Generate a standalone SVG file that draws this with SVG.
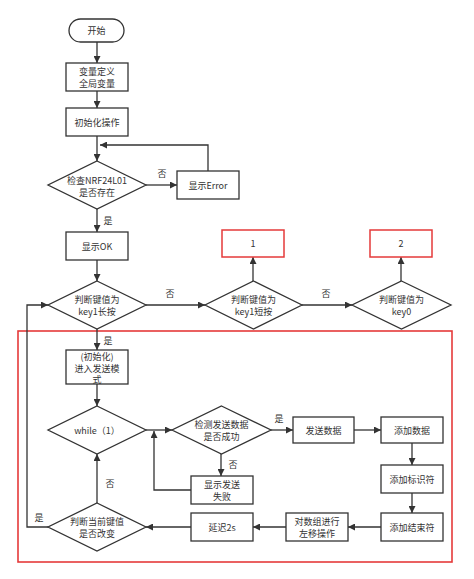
<svg xmlns="http://www.w3.org/2000/svg" width="474" height="579" viewBox="0 0 474 579">
<defs>
<marker id="ah" viewBox="0 0 10 10" refX="10" refY="5" markerWidth="7" markerHeight="7" markerUnits="userSpaceOnUse" orient="auto"><path d="M0,0 L10,5 L0,10 z" fill="#333"/></marker>
<style>
.n{fill:#fff;stroke:#333;stroke-width:1.3}
.r{fill:#fff;stroke:#e53a3a;stroke-width:1.5}
.c{fill:none;stroke:#333;stroke-width:1.3;marker-end:url(#ah)}
text{font-family:"Noto Sans CJK SC","Liberation Sans",sans-serif;font-size:9px;fill:#333;text-anchor:middle}
</style>
</defs>
<rect width="474" height="579" fill="#fff"/>
<rect x="18" y="331" width="434" height="231" fill="none" stroke="#e53a3a" stroke-width="1.6"/>
<g id="connectors">
<path class="c" d="M97,42 V63"/>
<path class="c" d="M97,91 V108"/>
<path class="c" d="M97,136 V161"/>
<path class="c" d="M146,185 H177"/>
<path class="c" d="M208,171 V145 H100"/>
<path class="c" d="M97,209 V232"/>
<path class="c" d="M97,260 V281"/>
<path class="c" d="M146,305 H205"/>
<path class="c" d="M302,305 H352"/>
<path class="c" d="M253,281 V257"/>
<path class="c" d="M401,281 V257"/>
<path class="c" d="M97,329 V350"/>
<path class="c" d="M97,384 V406"/>
<path class="c" d="M146,430 H172"/>
<path class="c" d="M271,430 H293"/>
<path class="c" d="M354,430 H381"/>
<path class="c" d="M412,443 V465"/>
<path class="c" d="M412,493 V513"/>
<path class="c" d="M381,527 H348"/>
<path class="c" d="M286,527 H253"/>
<path class="c" d="M191,527 H146"/>
<path class="c" d="M221,454 V476"/>
<path class="c" d="M191,490 H154 V431"/>
<path class="c" d="M97,503 V454"/>
<path class="c" d="M48,527 H27 V305 H48"/>
</g>
<g id="labels">
<text x="162" y="177">否</text>
<text x="108" y="224">是</text>
<text x="170" y="297">否</text>
<text x="326" y="297">否</text>
<text x="108" y="344">是</text>
<text x="279" y="422">是</text>
<text x="233" y="468">否</text>
<text x="110" y="487">否</text>
<text x="39" y="521">是</text>
</g>
<g id="start"><rect class="n" x="69" y="19" width="55" height="23" rx="11.5"/><text x="96.5" y="34">开始</text></g>
<g id="vardef"><rect class="n" x="66" y="63" width="62" height="28"/><text x="97" y="75">变量定义</text><text x="97" y="87">全局变量</text></g>
<g id="init"><rect class="n" x="66" y="108" width="62" height="28"/><text x="97" y="125.5">初始化操作</text></g>
<g id="checknrf"><polygon class="n" points="97,161 146,185 97,209 48,185"/><text x="97" y="184">检查NRF24L01</text><text x="97" y="196">是否存在</text></g>
<g id="error"><rect class="n" x="177" y="171" width="62" height="28"/><text x="208" y="188.5">显示Error</text></g>
<g id="ok"><rect class="n" x="66" y="232" width="62" height="28"/><text x="97" y="249.5">显示OK</text></g>
<g id="key1long"><polygon class="n" points="97,281 146,305 97,329 48,305"/><text x="97" y="303">判断键值为</text><text x="97" y="315">key1长按</text></g>
<g id="key1short"><polygon class="n" points="253.5,281 302,305 253.5,329 205,305"/><text x="253.5" y="303">判断键值为</text><text x="253.5" y="315">key1短按</text></g>
<g id="key0"><polygon class="n" points="401.5,281 451,305 401.5,329 352,305"/><text x="401.5" y="303">判断键值为</text><text x="401.5" y="315">key0</text></g>
<g id="box1"><rect class="r" x="222" y="230" width="62" height="27"/><text x="253" y="247">1</text></g>
<g id="box2"><rect class="r" x="370" y="230" width="62" height="27"/><text x="401" y="247">2</text></g>
<g id="sendmode"><rect class="n" x="66" y="350" width="62" height="34"/><text x="97" y="360">(初始化)</text><text x="97" y="371.5">进入发送模</text><text x="97" y="383">式</text></g>
<g id="while"><polygon class="n" points="97,406 146,430 97,454 48,430"/><text x="97" y="433.5">while（1）</text></g>
<g id="checksend"><polygon class="n" points="221.5,406 271,430 221.5,454 172,430"/><text x="221.5" y="428">检测发送数据</text><text x="221.5" y="440">是否成功</text></g>
<g id="senddata"><rect class="n" x="293" y="417" width="61" height="26"/><text x="323.5" y="433.5">发送数据</text></g>
<g id="adddata"><rect class="n" x="381" y="417" width="62" height="26"/><text x="412" y="433.5">添加数据</text></g>
<g id="addid"><rect class="n" x="381" y="465" width="62" height="28"/><text x="412" y="482.5">添加标识符</text></g>
<g id="addend"><rect class="n" x="381" y="513" width="62" height="28"/><text x="412" y="530.5">添加结束符</text></g>
<g id="shift"><rect class="n" x="286" y="513" width="62" height="28"/><text x="317" y="524.5">对数组进行</text><text x="317" y="536.5">左移操作</text></g>
<g id="delay"><rect class="n" x="191" y="513" width="62" height="28"/><text x="222" y="530.5">延迟2s</text></g>
<g id="fail"><rect class="n" x="191" y="476" width="62" height="28"/><text x="222" y="487.5">显示发送</text><text x="222" y="499.5">失败</text></g>
<g id="keychange"><polygon class="n" points="97,503 146,527 97,551 48,527"/><text x="97" y="525">判断当前键值</text><text x="97" y="537">是否改变</text></g>
</svg>
